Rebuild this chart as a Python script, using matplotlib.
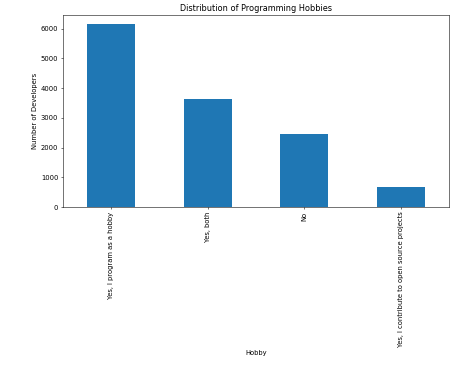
import matplotlib
matplotlib.use('Agg')
import matplotlib.pyplot as plt

# answers and counts
hobbies = ['Yes, I program as a hobby', 'Yes, both', 'No',
           'Yes, I contribute to open source projects']
counts = [6147, 3620, 2450, 687]

dpi = 48.5
fig = plt.figure(figsize=(474 / dpi, 368 / dpi), dpi=dpi)
ax = fig.add_axes([0.133, 0.4375, 0.814, 0.5215])

ax.bar(range(len(hobbies)), counts, width=0.5, color='#1f77b4')
ax.set_xlim(-0.5, len(hobbies) - 0.5)
ax.set_xticks(range(len(hobbies)))
ax.set_xticklabels(hobbies, rotation=90)

ax.set_title('Distribution of Programming Hobbies')
ax.set_xlabel('Hobby')
ax.set_ylabel('Number of Developers')

fig.savefig('out.png', dpi=dpi)
